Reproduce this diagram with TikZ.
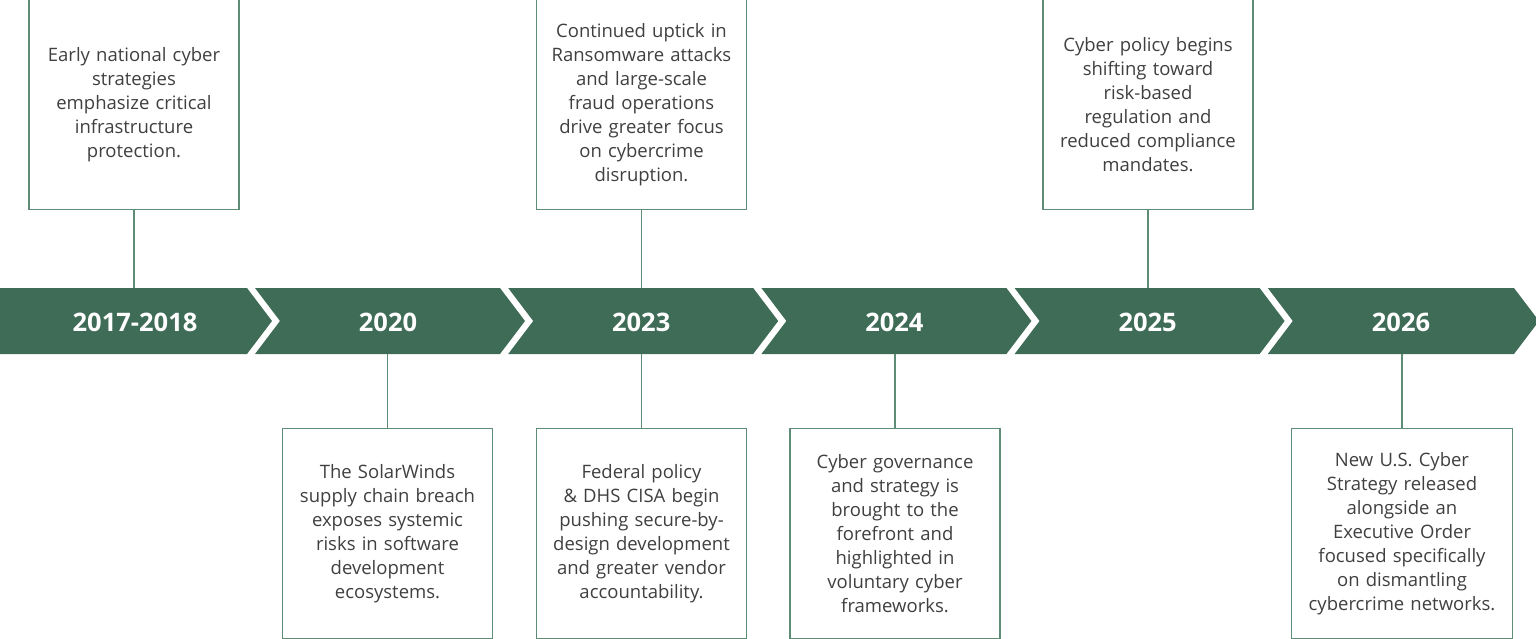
\documentclass[tikz,border=0pt]{standalone}
\usepackage{fontspec}
\setmainfont{Open Sans}
\definecolor{bannergreen}{HTML}{3F6C57}
\definecolor{boxline}{HTML}{5E8C77}
\definecolor{bodytext}{HTML}{404040}

\begin{document}
\begin{tikzpicture}[x=1pt, y=-1pt,
    yearseg/.style={fill=bannergreen, draw=none},
    yearlabel/.style={text=white, inner sep=0pt, font=\fontsize{25.5}{30}\selectfont\bfseries},
    eventbox/.style={draw=boxline, line width=1.2pt, fill=white, minimum width=210pt,
        minimum height=210pt, text width=198pt, align=center, inner sep=0pt,
        text=bodytext, font=\fontsize{18.5}{24}\selectfont},
    stem/.style={draw=boxline, line width=1.2pt}]
        \useasboundingbox (0, 0) rectangle (1536, 639);

        % Draw the year banner
        \fill[yearseg] (0, 288) -- (247, 288) -- (272, 321) -- (247, 354) -- (0, 354) -- cycle;
        \fill[yearseg] (255, 288) -- (500, 288) -- (525, 321) -- (500, 354) -- (255, 354) -- (280, 321) -- cycle;
        \fill[yearseg] (508.2, 288) -- (753.2, 288) -- (778.2, 321) -- (753.2, 354) -- (508.2, 354) -- (533.2, 321) -- cycle;
        \fill[yearseg] (761.4, 288) -- (1006.4, 288) -- (1031.4, 321) -- (1006.4, 354) -- (761.4, 354) -- (786.4, 321) -- cycle;
        \fill[yearseg] (1014.6, 288) -- (1259.6, 288) -- (1284.6, 321) -- (1259.6, 354) -- (1014.6, 354) -- (1039.6, 321) -- cycle;
        \fill[yearseg] (1267.8, 288) -- (1514, 288) -- (1539, 321) -- (1514, 354) -- (1267.8, 354) -- (1292.8, 321) -- cycle;
        \coordinate (bantop) at (0, 288);
        \coordinate (banbot) at (0, 354);

        \node[yearlabel] (y2017) at (135, 322) {2017-2018};
        \node[yearlabel] (y2020) at (388, 322) {2020};
        \node[yearlabel] (y2023) at (641.2, 322) {2023};
        \node[yearlabel] (y2024) at (894.4, 322) {2024};
        \node[yearlabel] (y2025) at (1147.6, 322) {2025};
        \node[yearlabel] (y2026) at (1401, 322) {2026};

        % Draw the events above the banner
        \node[eventbox] (e2017) at (134, 104.5) {Early national cyber\\strategies\\emphasize critical\\infrastructure\\protection.};
        \node[eventbox] (e2023a) at (641.5, 104.5) {Continued uptick in\\Ransomware attacks\\and large-scale\\fraud operations\\drive greater focus\\on cybercrime\\disruption.};
        \node[eventbox] (e2025) at (1148, 104.5) {Cyber policy begins\\shifting toward\\risk-based\\regulation and\\reduced compliance\\mandates.};

        % Draw the events below the banner
        \node[eventbox] (e2020) at (387.5, 533.5) {The SolarWinds\\supply chain breach\\exposes systemic\\risks in software\\development\\ecosystems.};
        \node[eventbox] (e2023b) at (641.5, 533.5) {Federal policy\\\& DHS CISA begin\\pushing secure-by-\\design development\\and greater vendor\\accountability.};
        \node[eventbox] (e2024) at (895, 533.5) {Cyber governance\\and strategy is\\brought to the\\forefront and\\highlighted in\\voluntary cyber\\frameworks.};
        \node[eventbox, minimum width=221pt] (e2026) at (1402, 533.5) {New U.S. Cyber\\Strategy released\\alongside an\\Executive Order\\focused specifically\\on dismantling\\cybercrime networks.};

        % Draw the stems
        \draw[stem] (e2017.south) -- (e2017.south |- bantop);
        \draw[stem] (e2023a.south) -- (e2023a.south |- bantop);
        \draw[stem] (e2025.south) -- (e2025.south |- bantop);
        \draw[stem] (e2020.north) -- (e2020.north |- banbot);
        \draw[stem] (e2023b.north) -- (e2023b.north |- banbot);
        \draw[stem] (e2024.north) -- (e2024.north |- banbot);
        \draw[stem] (e2026.north) -- (e2026.north |- banbot);
    \end{tikzpicture}
\end{document}
